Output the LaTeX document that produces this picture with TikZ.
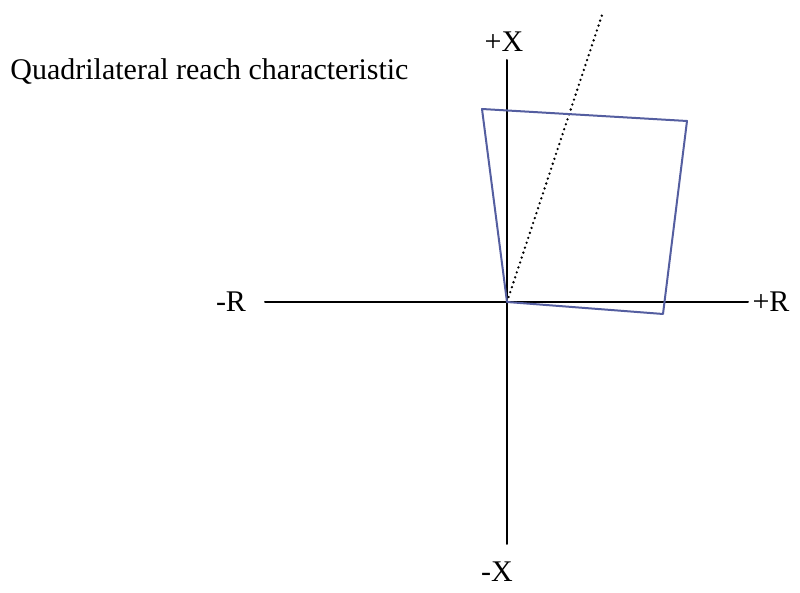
\documentclass[tikz,border=0pt]{standalone}
\usepackage{fontspec}
\setmainfont{Liberation Serif}
\definecolor{reachblue}{RGB}{84,94,160}
\begin{document}
\begin{tikzpicture}[x=0.5pt, y=-0.5pt, font=\fontsize{15}{17}\selectfont, line join=round, line cap=round]
	\useasboundingbox (0,0) rectangle (800,593);
	\def \xmin{265};
	\def \xmax{748};
	\def \ymin{544};
	\def \ymax{60};
	\coordinate (O) at (507,302);
	\draw[line width=1pt] (\xmin,302) -- (\xmax,302);
	\draw[line width=1pt] (507,\ymin) -- (507,\ymax);
	\node (pX) at (504,42) {+X};
	\node (mX) at (497,572) {-X};
	\node (mR) at (231,302) {-R};
	\node (pR) at (771,302) {+R};
	\node[anchor=base west, inner sep=0pt] (title) at (10,80) {Quadrilateral reach characteristic};
	\draw[line width=1.3pt, dash pattern=on 0pt off 2.6pt] (O) -- (603,12);
	\draw[reachblue, line width=1pt] (O) -- (482,109) -- (687,121) -- (663,314) -- cycle;
\end{tikzpicture}
\end{document}
